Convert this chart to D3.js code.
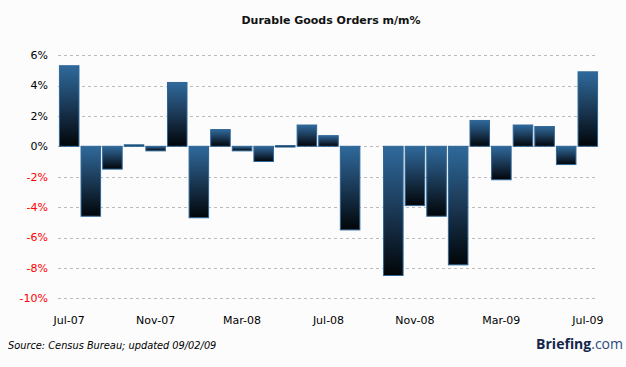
<!DOCTYPE html>
<html><head><meta charset="utf-8">
<script src="https://cdn.jsdelivr.net/npm/d3@7"></script>
<style>
html,body{margin:0;padding:0;background:#fcfcfc;}
svg{display:block;font-family:"DejaVu Sans",Verdana,sans-serif;}
</style></head>
<body>
<svg id="c" width="626" height="367"></svg>
<script>
const months = ["Jul-07","Aug-07","Sep-07","Oct-07","Nov-07","Dec-07","Jan-08","Feb-08","Mar-08","Apr-08","May-08","Jun-08","Jul-08","Aug-08","Sep-08","Oct-08","Nov-08","Dec-08","Jan-09","Feb-09","Mar-09","Apr-09","May-09","Jun-09","Jul-09"];
const values = [5.3,-4.6,-1.5,0.1,-0.3,4.2,-4.7,1.1,-0.3,-1.0,0.05,1.4,0.7,-5.5,null,-8.5,-3.9,-4.6,-7.8,1.7,-2.2,1.4,1.3,-1.2,4.9];
const yTicks = [6,4,2,0,-2,-4,-6,-8,-10];
const xLabels = ["Jul-07","Nov-07","Mar-08","Jul-08","Nov-08","Mar-09","Jul-09"];
const title = "Durable Goods Orders m/m%";
const source = "Source: Census Bureau; updated 09/02/09";

const svg = d3.select("#c");
const y = d3.scaleLinear().domain([-10,6]).range([298.3,55.1]);
const x = d3.scaleBand().domain(months).range([58.5,598.5]).paddingInner(0.05).paddingOuter(0.02);

const defs = svg.append("defs");
const g = defs.append("linearGradient").attr("id","bg").attr("x1",0).attr("y1",0).attr("x2",0).attr("y2",1);
g.append("stop").attr("offset","0%").attr("stop-color","#2f6a9c");
g.append("stop").attr("offset","45%").attr("stop-color","#1d3d5c");
g.append("stop").attr("offset","100%").attr("stop-color","#010508");

svg.append("text").attr("x",331).attr("y",24).attr("text-anchor","middle")
  .attr("font-size",11).attr("font-weight","bold").attr("fill","#111").text(title);

// grid
svg.append("g").selectAll("line").data(yTicks).join("line")
  .attr("x1",58).attr("x2",595)
  .attr("y1",d=>Math.round(y(d))+0.5).attr("y2",d=>Math.round(y(d))+0.5)
  .attr("stroke","#bbbbbb").attr("stroke-dasharray","3,3");

// y labels
svg.append("g").selectAll("text").data(yTicks).join("text")
  .attr("x",48).attr("y",d=>y(d)).attr("dy","0.35em").attr("text-anchor","end")
  .attr("font-size",11).attr("fill",d=>d<0?"#ff0000":"#000")
  .text(d=>d+"%");

// bars
svg.append("g").selectAll("rect").data(months.map((m,i)=>({m,v:values[i]})).filter(d=>d.v!==null)).join("rect")
  .attr("x",d=>x(d.m)+0.5)
  .attr("width",x.bandwidth()-1)
  .attr("y",d=>Math.min(y(d.v),y(0)))
  .attr("height",d=>Math.max(1.5,Math.abs(y(d.v)-y(0))))
  .attr("fill","url(#bg)").attr("stroke","#2e6696").attr("stroke-width",1);

// x axis labels
const xa = d3.axisBottom(x).tickValues(xLabels).tickSize(0).tickPadding(0);
const ax = svg.append("g").attr("transform","translate(0,316)").call(xa);
ax.select(".domain").remove();
ax.selectAll("text").attr("font-size",11).attr("font-family","DejaVu Sans, Verdana, sans-serif").attr("fill","#000");

svg.append("text").attr("x",8).attr("y",349).attr("font-size",9.8).attr("font-style","italic").attr("fill","#000").text(source);

const br = svg.append("text").attr("x",623).attr("y",349).attr("text-anchor","end").attr("font-size",14).attr("font-family","Open Sans, DejaVu Sans, sans-serif");
br.append("tspan").attr("font-weight","bold").attr("fill","#15264a").text("Briefing");
br.append("tspan").attr("fill","#2b4a78").text(".com");
</script>
</body></html>
